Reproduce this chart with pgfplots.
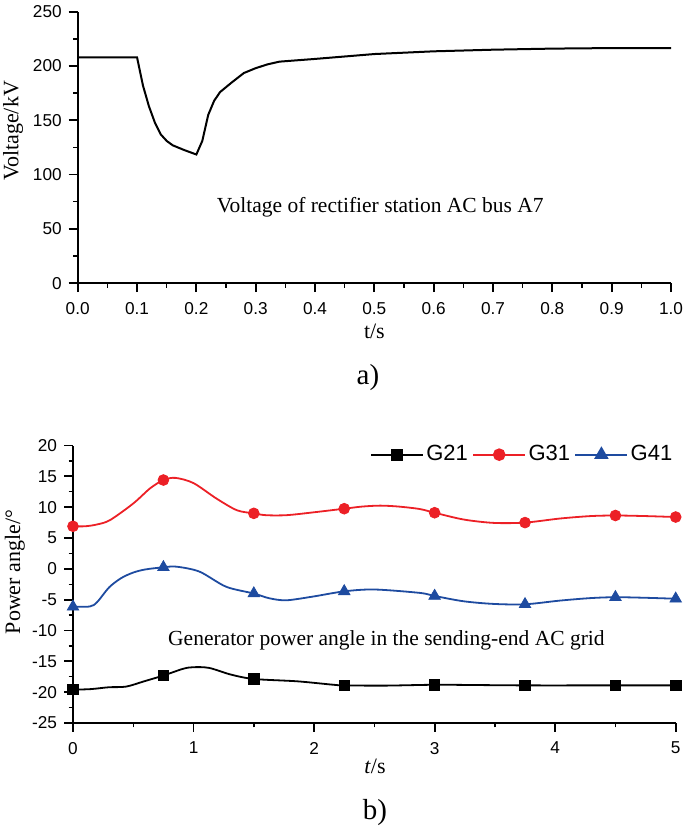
\documentclass[border=0pt]{standalone}
\usepackage{fontspec}
\setmainfont{Liberation Serif}
\newfontfamily\sansf{Liberation Sans}
\usepackage{pgfplots}
\pgfplotsset{compat=1.18}
\usepackage{pgfplotstable}

\definecolor{gred}{RGB}{236,32,38}
\definecolor{gblue}{RGB}{30,75,160}

% AC bus A7 voltage (kV) against time (s)
\pgfplotstableread{
t v
0 208
0.1 208
0.11 182
0.12 163
0.13 148
0.14 137
0.15 131
0.16 127
0.18 122.5
0.2 118.5
0.21 131
0.22 155
0.23 168
0.24 176
0.26 185
0.28 193.5
0.30 198
0.32 201.5
0.34 204
0.40 206.5
0.50 211
0.60 213.5
0.70 215
0.80 216
0.90 216.5
1.00 216.5
}\voltdata

% power angle curves (deg)
\pgfplotstableread{
t a
0 -19.6
0.15 -19.5
0.3 -19.2
0.44 -19.1
0.59 -18.24
0.75 -17.3
0.915 -16.2
1.0 -15.95
1.13 -16.07
1.31 -17.15
1.5 -17.86
1.86 -18.24
2.15 -18.78
2.25 -18.9
2.585 -18.94
3.0 -18.8
3.38 -18.85
3.75 -18.9
4.5 -18.9
5 -18.9
}\gblack
\pgfplotstableread{
t a
0 6.9
0.1 6.9
0.2 7.2
0.307 7.9
0.5 10.6
0.64 13.06
0.75 14.4
0.85 14.75
1.0 13.9
1.19 11.4
1.36 9.5
1.5 9.0
1.6 8.7
1.77 8.7
1.99 9.15
2.25 9.75
2.4 10.1
2.55 10.25
2.7 10.1
2.876 9.7
3.0 9.1
3.24 8.0
3.49 7.45
3.75 7.5
4.04 8.16
4.29 8.55
4.5 8.65
4.76 8.55
5.0 8.4
}\gredc
\pgfplotstableread{
t a
0 -6.15
0.14 -6.1
0.2 -5.4
0.3 -3.0
0.4 -1.5
0.5 -0.6
0.6 -0.1
0.75 0.25
0.86 0.35
1.05 -0.46
1.27 -2.9
1.5 -4.0
1.63 -4.78
1.77 -5.1
1.99 -4.5
2.25 -3.65
2.5 -3.35
2.876 -3.9
3.0 -4.4
3.24 -5.26
3.49 -5.69
3.75 -5.75
4.04 -5.15
4.29 -4.75
4.5 -4.6
4.76 -4.7
5 -4.85
}\gbluec

% marker samples every 0.75 s
\pgfplotstableread{
t a
0 -19.6
0.75 -17.3
1.5 -17.86
2.25 -18.9
3.0 -18.8
3.75 -18.9
4.5 -18.9
5 -18.9
}\mblack
\pgfplotstableread{
t a
0 6.9
0.75 14.4
1.5 9.0
2.25 9.75
3.0 9.1
3.75 7.5
4.5 8.65
5 8.4
}\mred
\pgfplotstableread{
t a
0 -6.15
0.75 0.25
1.5 -4.0
2.25 -3.65
3.0 -4.4
3.75 -5.75
4.5 -4.6
5 -4.85
}\mblue

\pgfplotsset{
  panel/.style={
    scale only axis,
    axis lines=left,
    axis line style={-, line width=0.9pt},
    tick align=outside,
    major tick length=4.5pt,
    minor tick length=2.2pt,
    tick style={black, line width=0.9pt},
    minor tick style={line width=0.7pt},
    tick label style={font=\sansf\fontsize{8.6}{9.5}\selectfont},
    /pgf/number format/assume math mode=true,
    xticklabel style={yshift=-1.5pt},
    clip=false,
  }
}

\begin{document}
\begin{tikzpicture}
\useasboundingbox (0,0) rectangle (342.5pt,417pt);

% a) rectifier bus voltage
\begin{axis}[panel,
  at={(38.85pt,275.4pt)}, anchor=south west,
  width=296.65pt, height=135.75pt,
  xmin=0, xmax=1, ymin=0, ymax=250,
  xtick={0,0.1,0.2,0.3,0.4,0.5,0.6,0.7,0.8,0.9,1},
  minor x tick num=1,
  ytick={0,50,100,150,200,250},
  minor y tick num=1,
  xticklabel style={/pgf/number format/.cd, fixed, fixed zerofill, precision=1},
]
\addplot[black, line width=1pt] table {\voltdata};
\node[font=\fontsize{10.75}{12}\selectfont] at (axis cs:0.51,70) {Voltage of rectifier station AC bus A7};
\end{axis}

% b) generator power angles
\begin{axis}[panel,
  at={(36.5pt,55.5pt)}, anchor=south west,
  width=301.35pt, height=138.75pt,
  xmin=0, xmax=5, ymin=-25, ymax=20,
  xtick={0,1,2,3,4,5},
  minor x tick num=1,
  ytick={-25,-20,-15,-10,-5,0,5,10,15,20},
  minor y tick num=1,
  legend style={draw=none, fill=none, at={(0.999,0.967)}, anchor=east,
    font=\sansf\fontsize{11}{12}\selectfont, inner sep=0pt,
    /tikz/every even column/.append style={column sep=1pt},
    nodes={inner xsep=1.2pt, inner ysep=0pt}},
  legend columns=3,
  legend image code/.code={\draw[mark repeat=2,mark phase=2,#1] plot coordinates {(0pt,0pt) (13pt,0pt) (26pt,0pt)};},
]
\addlegendimage{black, line width=0.9pt, mark=square*, mark size=2.6pt}
\addlegendentry{G21}
\addlegendimage{gred, line width=0.9pt, mark=*, mark size=2.7pt}
\addlegendentry{G31}
\addlegendimage{gblue, line width=0.9pt, mark=triangle*, mark size=3.3pt}
\addlegendentry{G41}

\addplot[black, line width=0.9pt, smooth, forget plot] table {\gblack};
\addplot[gred, line width=0.9pt, smooth, forget plot] table {\gredc};
\addplot[gblue, line width=0.9pt, smooth, forget plot] table {\gbluec};
\addplot[black, only marks, mark=square*, mark size=2.6pt, forget plot] table {\mblack};
\addplot[gred, only marks, mark=*, mark size=2.7pt, forget plot] table {\mred};
\addplot[gblue, only marks, mark=triangle*, mark size=3.3pt, forget plot] table {\mblue};

\node[font=\fontsize{10.75}{12}\selectfont] at (axis cs:2.6,-11.6) {Generator power angle in the sending-end AC grid};
\end{axis}

% axis titles and panel captions
\node[rotate=90, anchor=base, font=\fontsize{11}{12}\selectfont] at (9.2pt,351.5pt) {Voltage/kV};
\node[font=\fontsize{11}{12}\selectfont] at (187.2pt,251.2pt) {t/s};
\node[font=\fontsize{14.5}{16}\selectfont] at (184pt,228pt) {a)};

\node[rotate=90, anchor=base, font=\fontsize{11}{12}\selectfont] at (10pt,131pt) {Power angle/°};
\node[font=\fontsize{11}{12}\selectfont] at (187.5pt,33.65pt) {\textit{t}/s};
\node[font=\fontsize{14.5}{16}\selectfont] at (187.5pt,10.5pt) {b)};
\end{tikzpicture}
\end{document}
